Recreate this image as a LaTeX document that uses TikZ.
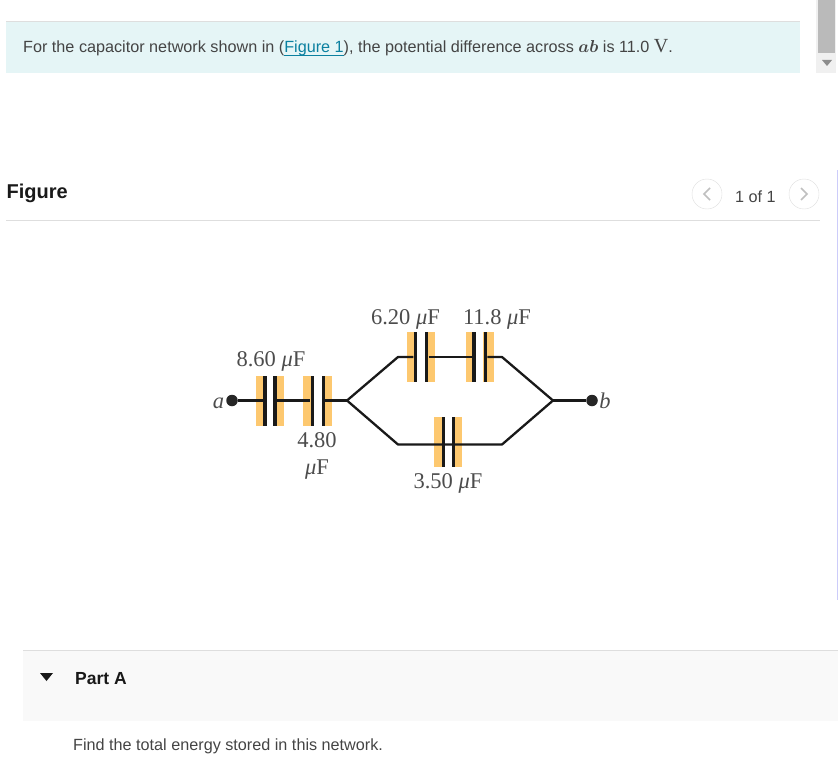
\documentclass[tikz,border=0pt]{standalone}
\usepackage{fontspec}
\usepackage{amsmath}
\setmainfont{Liberation Sans}
\newfontfamily\labelfont{Liberation Serif}
\definecolor{bandteal}{HTML}{E5F5F6}
\definecolor{barorange}{HTML}{FDC86F}
\definecolor{linkblue}{HTML}{0B80A0}
\definecolor{bodygrey}{HTML}{444444}
\definecolor{rulegrey}{HTML}{DEDEDE}
\definecolor{partgrey}{HTML}{F9F9F9}
\begin{document}
\begin{tikzpicture}[x=1pt,y=-1pt]

\def\barh{50pt}
\def\wirey{400.5}
\def\upy{357}
\def\lowy{444.5}
\def\lowcap{442}

\tikzset{point/.style = {draw=none, circle, fill=black!85, minimum size=11.5pt,inner sep=0pt}}
\tikzset{junct/.style = {inner sep=0pt, minimum size=0pt}}
\tikzset{capbar/.style = {draw=none, fill=barorange, minimum width=10.5pt, minimum height=\barh, inner sep=0pt}}
\tikzset{plate/.style = {draw=none, fill=black!90, minimum width=3.5pt, minimum height=\barh, inner sep=0pt}}
\tikzset{wire/.style = {draw=black!90, line width=2.3pt, line join=round}}
\tikzset{vallabel/.style = {text=black!70, font=\labelfont\fontsize{22.5}{27}\selectfont, inner sep=0pt, anchor=base}}
\tikzset{bodytext/.style = {text=bodygrey, font=\fontsize{16.2}{19}\selectfont, inner sep=0pt, anchor=base west}}
\tikzset{headtext/.style = {text=black!90, font=\bfseries\fontsize{20}{24}\selectfont, inner sep=0pt, anchor=base west}}
\tikzset{pagebtn/.style = {draw=rulegrey, circle, fill=white, minimum size=30pt, inner sep=0pt}}
\tikzset{chevron/.style = {draw=black!25, line width=1.6pt}}

\useasboundingbox (0,0) rectangle (838,760);

% question band
\fill[bandteal] (6,21) rectangle (800,73);
\draw[rulegrey] (6,21) -- (800,21);
\node[bodytext] (qtext) at (23,53) {For the capacitor network shown in (\textcolor{linkblue}{\underline{\smash{Figure 1}}}), the potential difference across $\boldsymbol{ab}$ is 11.0 {\labelfont\fontsize{20}{20}\selectfont V}.};

% scroll bar
\fill[black!6] (816,0) rectangle (836,73);
\fill[black!27] (818,0) rectangle (835,53);
\fill[black!45] (822,60) -- (832,60) -- (827,66) -- cycle;

% figure header
\node[headtext] (figtitle) at (6.5,198) {Figure};
\node[pagebtn] (prevbtn) at (707,194) {};
\node[pagebtn] (nextbtn) at (804,194) {};
\draw[chevron] (710,188) -- (704,194) -- (710,200);
\draw[chevron] (801,188) -- (807,194) -- (801,200);
\node[bodytext] (pagecount) at (735,202) {1 of 1};
\draw[rulegrey] (6,220) -- (820,220);
\fill[black!10!blue!20] (836.5,170) rectangle (838,600);

% part A
\fill[partgrey] (23,650) rectangle (838,721);
\draw[rulegrey] (23,650) -- (838,650);
\fill[black!90] (40,673) -- (53,673) -- (46.5,681) -- cycle;
\node[headtext,font=\bfseries\fontsize{17.5}{21}\selectfont] (parttitle) at (75,684) {Part A};
\node[bodytext] (findtext) at (73,750) {Find the total energy stored in this network.};

% orange bars
\node[capbar] at (261.3,\wirey) {};
\node[capbar] at (278.6,\wirey) {};
\node[capbar] at (308.7,\wirey) {};
\node[capbar] at (326.8,\wirey) {};
\node[capbar] at (412,\upy) {};
\node[capbar] at (430,\upy) {};
\node[capbar] at (471,\upy) {};
\node[capbar] at (488.7,\upy) {};
\node[capbar] at (439.5,\lowcap) {};
\node[capbar] at (457.2,\lowcap) {};

% terminals and corners
\node[point] (Na) at (232,\wirey) {};
\node[point] (Nb) at (592,\wirey) {};
\node[junct] (J1) at (347,\wirey) {};
\node[junct] (J2) at (553,\wirey) {};
\node[junct] (U1) at (398,\upy) {};
\node[junct] (U2) at (502,\upy) {};
\node[junct] (L1) at (398,\lowy) {};
\node[junct] (L2) at (502,\lowy) {};

% plates
\node[plate] (C1a) at (265,\wirey) {};
\node[plate] (C1b) at (275,\wirey) {};
\node[plate] (C2a) at (312.3,\wirey) {};
\node[plate] (C2b) at (323.5,\wirey) {};
\node[plate] (C3a) at (415.3,\upy) {};
\node[plate] (C3b) at (426.7,\upy) {};
\node[plate] (C4a) at (474,\upy) {};
\node[plate] (C4b) at (485.3,\upy) {};
\node[plate] (C5a) at (443.3,\lowcap) {};
\node[plate] (C5b) at (453.7,\lowcap) {};

% wires
\draw[wire] (Na) -- (C1a);
\draw[wire] (C1b) -- (C2a);
\draw[wire] (C2b) -- (J1.center);
\draw[wire] (J1.center) -- (U1.center) -- (C3a);
\draw[wire] (C3b) -- (C4a);
\draw[wire] (C4b) -- (U2.center) -- (J2.center);
\draw[wire] (J1.center) -- (L1.center) -- (L2.center) -- (J2.center);
\draw[wire] (J2.center) -- (Nb);

% labels
\node[vallabel] (La) at (218.5,408) {\textit{a}};
\node[vallabel] (Lb) at (605,408) {\textit{b}};
\node[vallabel] (L860) at (271,366) {8.60 \textit{μ}F};
\node[vallabel] (L480) at (317,447) {4.80};
\node[vallabel] (L480u) at (317,474) {\textit{μ}F};
\node[vallabel] (L620) at (405.5,324) {6.20 \textit{μ}F};
\node[vallabel] (L118) at (497,324) {11.8 \textit{μ}F};
\node[vallabel] (L350) at (448,488) {3.50 \textit{μ}F};

\end{tikzpicture}
\end{document}
